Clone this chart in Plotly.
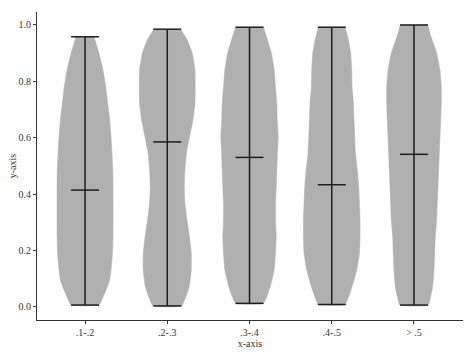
import plotly.graph_objects as go

categories = [".1-.2", ".2-.3", ".3-.4", ".4-.5", "> .5"]
positions = [1, 2, 3, 4, 5]

# violin outline: y levels (top -> bottom) and half-widths (x units)
v1_y = [0.958, 0.900, 0.840, 0.781, 0.722, 0.663, 0.603, 0.545, 0.485, 0.426, 0.367, 0.308, 0.248, 0.190, 0.130, 0.095, 0.059, 0.024, 0.006]
v1_w = [0.109, 0.170, 0.219, 0.252, 0.276, 0.300, 0.316, 0.328, 0.338, 0.340, 0.340, 0.340, 0.340, 0.334, 0.316, 0.300, 0.255, 0.203, 0.170]
v2_y = [0.985, 0.947, 0.900, 0.840, 0.781, 0.722, 0.663, 0.603, 0.545, 0.485, 0.426, 0.367, 0.308, 0.248, 0.190, 0.130, 0.071, 0.036, 0.003]
v2_w = [0.162, 0.243, 0.304, 0.337, 0.340, 0.337, 0.312, 0.271, 0.233, 0.215, 0.207, 0.215, 0.240, 0.270, 0.292, 0.292, 0.267, 0.227, 0.174]
v3_y = [0.992, 0.947, 0.900, 0.840, 0.781, 0.722, 0.663, 0.603, 0.545, 0.485, 0.426, 0.367, 0.308, 0.248, 0.190, 0.130, 0.071, 0.036, 0.012]
v3_w = [0.170, 0.219, 0.267, 0.300, 0.316, 0.332, 0.337, 0.349, 0.340, 0.332, 0.325, 0.316, 0.316, 0.325, 0.316, 0.300, 0.252, 0.210, 0.170]
v4_y = [0.992, 0.947, 0.900, 0.840, 0.781, 0.722, 0.663, 0.603, 0.545, 0.485, 0.426, 0.367, 0.308, 0.248, 0.190, 0.130, 0.071, 0.036, 0.008]
v4_w = [0.162, 0.203, 0.231, 0.243, 0.247, 0.264, 0.271, 0.280, 0.288, 0.312, 0.328, 0.337, 0.344, 0.344, 0.337, 0.304, 0.247, 0.207, 0.162]
v5_y = [1.000, 0.958, 0.900, 0.840, 0.781, 0.722, 0.663, 0.603, 0.545, 0.485, 0.426, 0.367, 0.308, 0.248, 0.190, 0.130, 0.071, 0.036, 0.006]
v5_w = [0.167, 0.207, 0.276, 0.316, 0.332, 0.332, 0.325, 0.316, 0.308, 0.300, 0.292, 0.283, 0.276, 0.259, 0.252, 0.243, 0.227, 0.203, 0.174]

mins = [0.006, 0.003, 0.012, 0.008, 0.006]
maxs = [0.958, 0.985, 0.992, 0.992, 1.000]
medians = [0.414, 0.585, 0.530, 0.433, 0.541]

profiles_y = [v1_y, v2_y, v3_y, v4_y, v5_y]
profiles_w = [v1_w, v2_w, v3_w, v4_w, v5_w]

FILL = "rgb(176,176,176)"
LINE = "rgb(30,30,30)"
CAP = 0.17
FONT = "Liberation Serif, Times New Roman, serif"

fig = go.Figure()
for p, ys, ws in zip(positions, profiles_y, profiles_w):
    xs = [p + w for w in ws] + [p - w for w in reversed(ws)]
    yy = list(ys) + list(reversed(ys))
    fig.add_trace(go.Scatter(x=xs, y=yy, mode="lines", fill="toself", fillcolor=FILL,
                             line=dict(color=FILL, width=0.5, shape="spline", smoothing=0.4),
                             hoverinfo="skip", showlegend=False))

lx, ly = [], []
for p, lo, hi, md in zip(positions, mins, maxs, medians):
    lx += [p, p, None, p - CAP, p + CAP, None, p - CAP, p + CAP, None, p - CAP, p + CAP, None]
    ly += [lo, hi, None, lo, lo, None, hi, hi, None, md, md, None]
fig.add_trace(go.Scatter(x=lx, y=ly, mode="lines", line=dict(color=LINE, width=1.5),
                         hoverinfo="skip", showlegend=False))

fig.update_layout(
    width=474, height=355,
    margin=dict(l=37, r=11, t=12, b=35),
    paper_bgcolor="white", plot_bgcolor="white",
    font=dict(family=FONT, size=10, color="#333"),
    xaxis=dict(range=[0.416, 5.596], tickvals=positions, ticktext=categories,
               showline=True, linecolor="#333", linewidth=1, ticks="outside", ticklen=3,
               tickcolor="#333", showgrid=False, zeroline=False, automargin=False,
               title=dict(text="x-axis", font=dict(size=10), standoff=0)),
    yaxis=dict(range=[-0.047, 1.046], tickvals=[0, 0.2, 0.4, 0.6, 0.8, 1.0], tickformat=".1f",
               showline=True, linecolor="#333", linewidth=1, ticks="outside", ticklen=3,
               tickcolor="#333", showgrid=False, zeroline=False, automargin=False,
               title=dict(text="y-axis", font=dict(size=10), standoff=0)),
)

fig.write_html("out.html")
